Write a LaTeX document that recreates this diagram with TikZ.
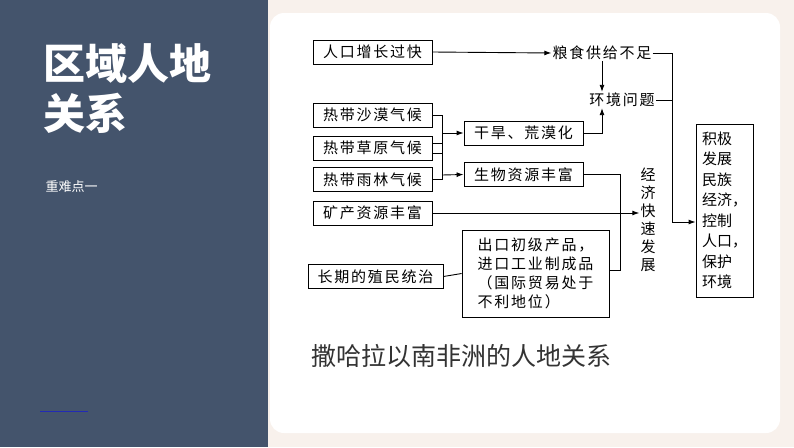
\documentclass[tikz,border=0pt]{standalone}
\usepackage{fontspec}
\setmainfont{Noto Sans CJK SC}
\newfontfamily\boxfont[LetterSpace=12]{Noto Sans CJK SC}
\usetikzlibrary{arrows.meta}
\definecolor{panel}{HTML}{44546C}
\definecolor{paper}{HTML}{F8F1EC}
\tikzset{
  box/.style={draw, line width=0.9pt, minimum width=119pt, minimum height=24pt, inner sep=0pt, font=\boxfont\fontsize{15}{16}\selectfont},
  plain/.style={inner sep=1pt, font=\boxfont\fontsize{15}{16}\selectfont},
  link/.style={line width=0.9pt},
  arr/.style={link, -{Latex[length=7pt,width=5pt]}}
}
\begin{document}
\begin{tikzpicture}[x=1pt,y=-1pt]
  \useasboundingbox (0,0) rectangle (794,447);
  % background
  \fill[paper] (0,0) rectangle (794,447);
  \fill[white, rounded corners=14pt] (270,13) rectangle (780,433);
  \fill[panel] (0,0) rectangle (268,447);
  \node[anchor=north west, text=white, align=left, font=\fontsize{42}{50}\selectfont\bfseries] (title) at (40,40) {区域人地\\关系};
  \node[anchor=west, text=white, font=\fontsize{13}{15}\selectfont] (sub) at (42,187) {重难点一};
  \draw[blue!50!panel, line width=0.8pt] (40,411) -- (88,411);

  % boxes
  \node[box] (pop) at (372.5,52) {人口增长过快};
  \node[box] (desert) at (372.5,115) {热带沙漠气候};
  \node[box] (grass) at (372.5,148) {热带草原气候};
  \node[box] (rain) at (372.5,179.5) {热带雨林气候};
  \node[box] (mineral) at (372.5,213) {矿产资源丰富};
  \node[box, minimum width=135pt] (colonial) at (375.5,276.5) {长期的殖民统治};
  \node[box] (drought) at (523.5,133) {干旱、荒漠化};
  \node[box] (bio) at (523.5,174.5) {生物资源丰富};
  \node[box, minimum width=147pt, minimum height=87pt, align=left, font=\boxfont\fontsize{15}{19}\selectfont] (trade) at (535.5,273.5)
    {出口初级产品，\\进口工业制成品\\（国际贸易处于\\不利地位）};
  \node[plain] (food) at (602,53) {粮食供给不足};
  \node[plain] (env) at (622,100) {环境问题};
  \node[plain, align=center, font=\fontsize{15}{18}\selectfont] (econ) at (648,220) {经\\济\\快\\速\\发\\展};
  \node[box, minimum width=57pt, minimum height=173pt, align=left, font=\fontsize{15}{20.5}\selectfont] (result) at (724.5,210.5)
    {积极\\发展\\民族\\经济，\\控制\\人口，\\保护\\环境};

  % connectors
  \coordinate (join) at (672,222);
  \draw[arr] (pop.east) -- (food.west);
  \draw[arr] (food.south) -- (env.north -| food.south);
  \draw[link] (food.east) -| (join);
  \draw[link] (env.east) -- (env.east -| join);
  \draw[arr] (join) -- (join -| result.west);
  \draw[link] (desert.east) -- ++(10,0) |- ([yshift=-5pt]grass.east);
  \draw[arr] (442,133) -- (drought.west);
  \draw[link] ([yshift=5pt]grass.east) -- ++(10,0) |- (rain.east);
  \draw[arr] (442,175) -- (bio.west);
  \draw[arr] (drought.east) -| (env.south -| food.south);
  \draw[link] (bio.east) -- ++(37,0) |- ([yshift=3pt]trade.east);
  \draw[arr] (mineral.east) -- (mineral.east -| econ.west);
  \draw[link] (colonial.east) -- (trade.west);

  \node[anchor=west, text=black!80, font=\fontsize{25}{28}\selectfont] (caption) at (308,356) {撒哈拉以南非洲的人地关系};
\end{tikzpicture}
\end{document}
